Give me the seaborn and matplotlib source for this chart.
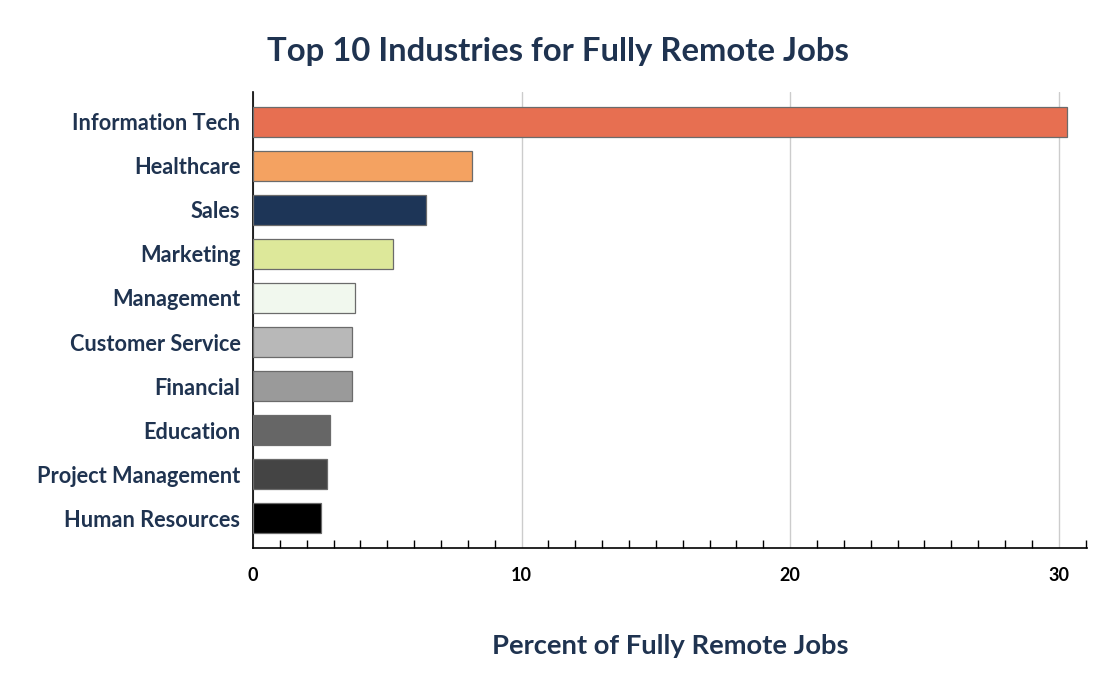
import matplotlib
matplotlib.use('Agg')
import matplotlib.pyplot as plt
import seaborn as sns
from matplotlib.ticker import MultipleLocator

industries = ['Information Tech', 'Healthcare', 'Sales', 'Marketing', 'Management',
              'Customer Service', 'Financial', 'Education', 'Project Management',
              'Human Resources']
percent = [30.3, 8.15, 6.45, 5.2, 3.8, 3.7, 3.7, 2.85, 2.75, 2.55]
colors = ['#E76F51', '#F4A261', '#1D3557', '#DDE89A', '#F1F8EE',
          '#B8B8B8', '#9A9A9A', '#666666', '#444444', '#000000']

navy = '#1F3350'

sns.set_style('white')
plt.rcParams['font.family'] = ['Lato', 'DejaVu Sans']

fig = plt.figure(figsize=(11.16, 6.91), dpi=100)
ax = fig.add_axes([0.2267, 0.2069, 0.7473, 0.66])

sns.barplot(x=percent, y=industries, hue=industries, palette=colors, legend=False,
            orient='h', width=0.68, saturation=1, edgecolor='#6b6b6b', linewidth=0.9,
            ax=ax, zorder=3)

ax.set_xlim(0, 31.05)
ax.set_ylim(9.68, -0.68)
ax.xaxis.set_major_locator(MultipleLocator(10))
ax.xaxis.set_minor_locator(MultipleLocator(1))
ax.grid(axis='x', which='major', color='#cccccc', linewidth=1, zorder=0)
ax.grid(axis='y', visible=False)

sns.despine(ax=ax)
for s in ['left', 'bottom']:
    ax.spines[s].set_color('black')
    ax.spines[s].set_linewidth(1.2)

ax.tick_params(axis='x', which='major', direction='inout', length=12, width=1.2,
               color='black', pad=8)
ax.tick_params(axis='x', which='minor', direction='in', length=6, width=1,
               color='black', bottom=True)
ax.tick_params(axis='y', length=0, pad=9)
for lab in ax.get_xticklabels():
    lab.set_fontweight('bold')
    lab.set_fontsize(13)
    lab.set_color('black')
for lab in ax.get_yticklabels():
    lab.set_fontweight('bold')
    lab.set_fontsize(15.7)
    lab.set_color(navy)

ax.set_xlabel('Percent of Fully Remote Jobs', fontsize=19.7, fontweight='bold',
              color=navy, labelpad=36)
ax.set_ylabel('')
fig.text(0.5, 0.925, 'Top 10 Industries for Fully Remote Jobs', ha='center', va='center',
         fontsize=23.7, fontweight='bold', color=navy)

fig.savefig('out.png', dpi=100)
